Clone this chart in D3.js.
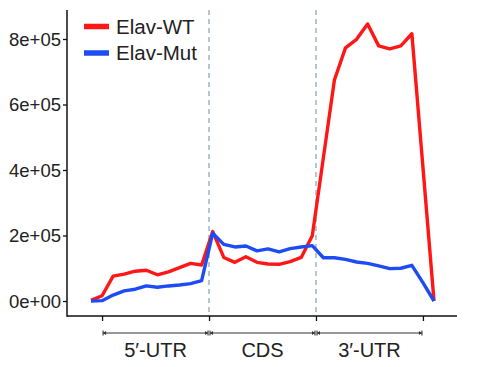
<!DOCTYPE html>
<html><head><meta charset="utf-8">
<script src="https://cdn.jsdelivr.net/npm/d3@7"></script>
<style>body{margin:0;background:#fff;overflow:hidden}text{font-family:"Liberation Sans",Arial,Helvetica,sans-serif;fill:#222}</style>
</head><body>
<script>
// ---- data ----
const bins = [1,2,3,4,5,6,7,8,9,10,11,12,13,14,15,16,17,18,19,20,21,22,23,24,25,26,27,28,29,30,31,32];
const elavWT = [2000,16000,76000,82000,91000,94000,80000,89000,102000,115000,110000,212000,133000,118000,135000,118000,113000,112000,120000,133000,199000,437000,675000,773000,799000,846000,779000,770000,779000,816000,409000,0];
const elavMut = [0,1000,18000,31000,36000,46000,42000,46000,49000,53000,62000,207000,173000,165000,168000,153000,159000,150000,160000,165000,169000,132000,132000,127000,119000,115000,107000,99000,100000,109000,56000,0];
const seriesNames = ["Elav-WT","Elav-Mut"];
const seriesColors = ["#ff1616","#1d4cf5"];
const yTicks = [0,200000,400000,600000,800000];
const yTickLabels = ["0e+00","2e+05","4e+05","6e+05","8e+05"];
const regionEdges = [2, 2+29/3, 2+58/3, 31];
const regionNames = ["5\u2032-UTR","CDS","3\u2032-UTR"];

const W = 491, H = 367;
const svg = d3.select("body").append("svg").attr("width",W).attr("height",H);

const x = d3.scaleLinear().domain([1,32]).range([91,434]);
const y = d3.scaleLinear().domain([0,800000]).range([301,39]);

const axisLeft = 67, axisBottom = 316, axisTop = 10, axisRight = 457;

// dashed region separators
svg.selectAll("line.sep").data(regionEdges.slice(1,3)).enter().append("line")
  .attr("x1",d=>x(d)).attr("x2",d=>x(d)).attr("y1",axisTop).attr("y2",axisBottom)
  .attr("stroke","#93a8b5").attr("stroke-width",1.3).attr("stroke-dasharray","5,4");

// axes lines
svg.append("line").attr("x1",axisLeft).attr("x2",axisLeft).attr("y1",axisTop).attr("y2",axisBottom+0.7)
  .attr("stroke","#111").attr("stroke-width",1.5);
svg.append("line").attr("x1",axisLeft).attr("x2",axisRight).attr("y1",axisBottom).attr("y2",axisBottom)
  .attr("stroke","#111").attr("stroke-width",1.5);

// y ticks
const yAxis = d3.axisLeft(y).tickValues(yTicks).tickFormat((d,i)=>yTickLabels[i]).tickSize(4).tickPadding(2);
const gy = svg.append("g").attr("transform",`translate(${axisLeft},0)`).call(yAxis);
gy.select(".domain").remove();
gy.selectAll(".tick line").attr("stroke","#111").attr("stroke-width",1.3);
gy.selectAll(".tick text").attr("font-size",18.5).attr("fill","#222")
  .attr("font-family","Liberation Sans, Arial, sans-serif").attr("dy","0.34em");

// x ticks
const xAxis = d3.axisBottom(x).tickValues(regionEdges).tickFormat("").tickSize(5);
const gx = svg.append("g").attr("transform",`translate(0,${axisBottom})`).call(xAxis);
gx.select(".domain").remove();
gx.selectAll(".tick line").attr("stroke","#111").attr("stroke-width",1.3);

// lines
const line = d3.line().x((d,i)=>x(bins[i])).y(d=>y(d));
[elavWT, elavMut].forEach((s,k)=>{
  svg.append("path").datum(s).attr("d",line).attr("fill","none")
    .attr("stroke",seriesColors[k]).attr("stroke-width",3.4).attr("stroke-linejoin","round");
});

// region brackets
const by = 333;
for (let i=0;i<regionNames.length;i++){
  const a = x(regionEdges[i])+1, b = x(regionEdges[i+1])-1;
  const g = svg.append("g");
  g.append("line").attr("x1",a).attr("x2",b).attr("y1",by).attr("y2",by).attr("stroke","#333").attr("stroke-width",1.1);
  g.append("line").attr("x1",a).attr("x2",a).attr("y1",by-2.5).attr("y2",by+2.5).attr("stroke","#333").attr("stroke-width",1.1);
  g.append("line").attr("x1",b).attr("x2",b).attr("y1",by-2.5).attr("y2",by+2.5).attr("stroke","#333").attr("stroke-width",1.1);
  g.append("path").attr("d",`M${a},${by}l3,-2v4z M${b},${by}l-3,-2v4z`).attr("fill","#333");
  svg.append("text").attr("x",(x(regionEdges[i])+x(regionEdges[i+1]))/2).attr("y",357)
    .attr("text-anchor","middle").attr("font-size",20).text(regionNames[i]);
}

// legend
const legY = [26.5, 53];
seriesNames.forEach((n,k)=>{
  svg.append("line").attr("x1",84).attr("x2",109).attr("y1",legY[k]).attr("y2",legY[k])
    .attr("stroke",seriesColors[k]).attr("stroke-width",5.5);
  svg.append("text").attr("x",116).attr("y",legY[k]).attr("dy","0.35em").attr("font-size",20.5).text(n);
});
</script>
</body></html>
